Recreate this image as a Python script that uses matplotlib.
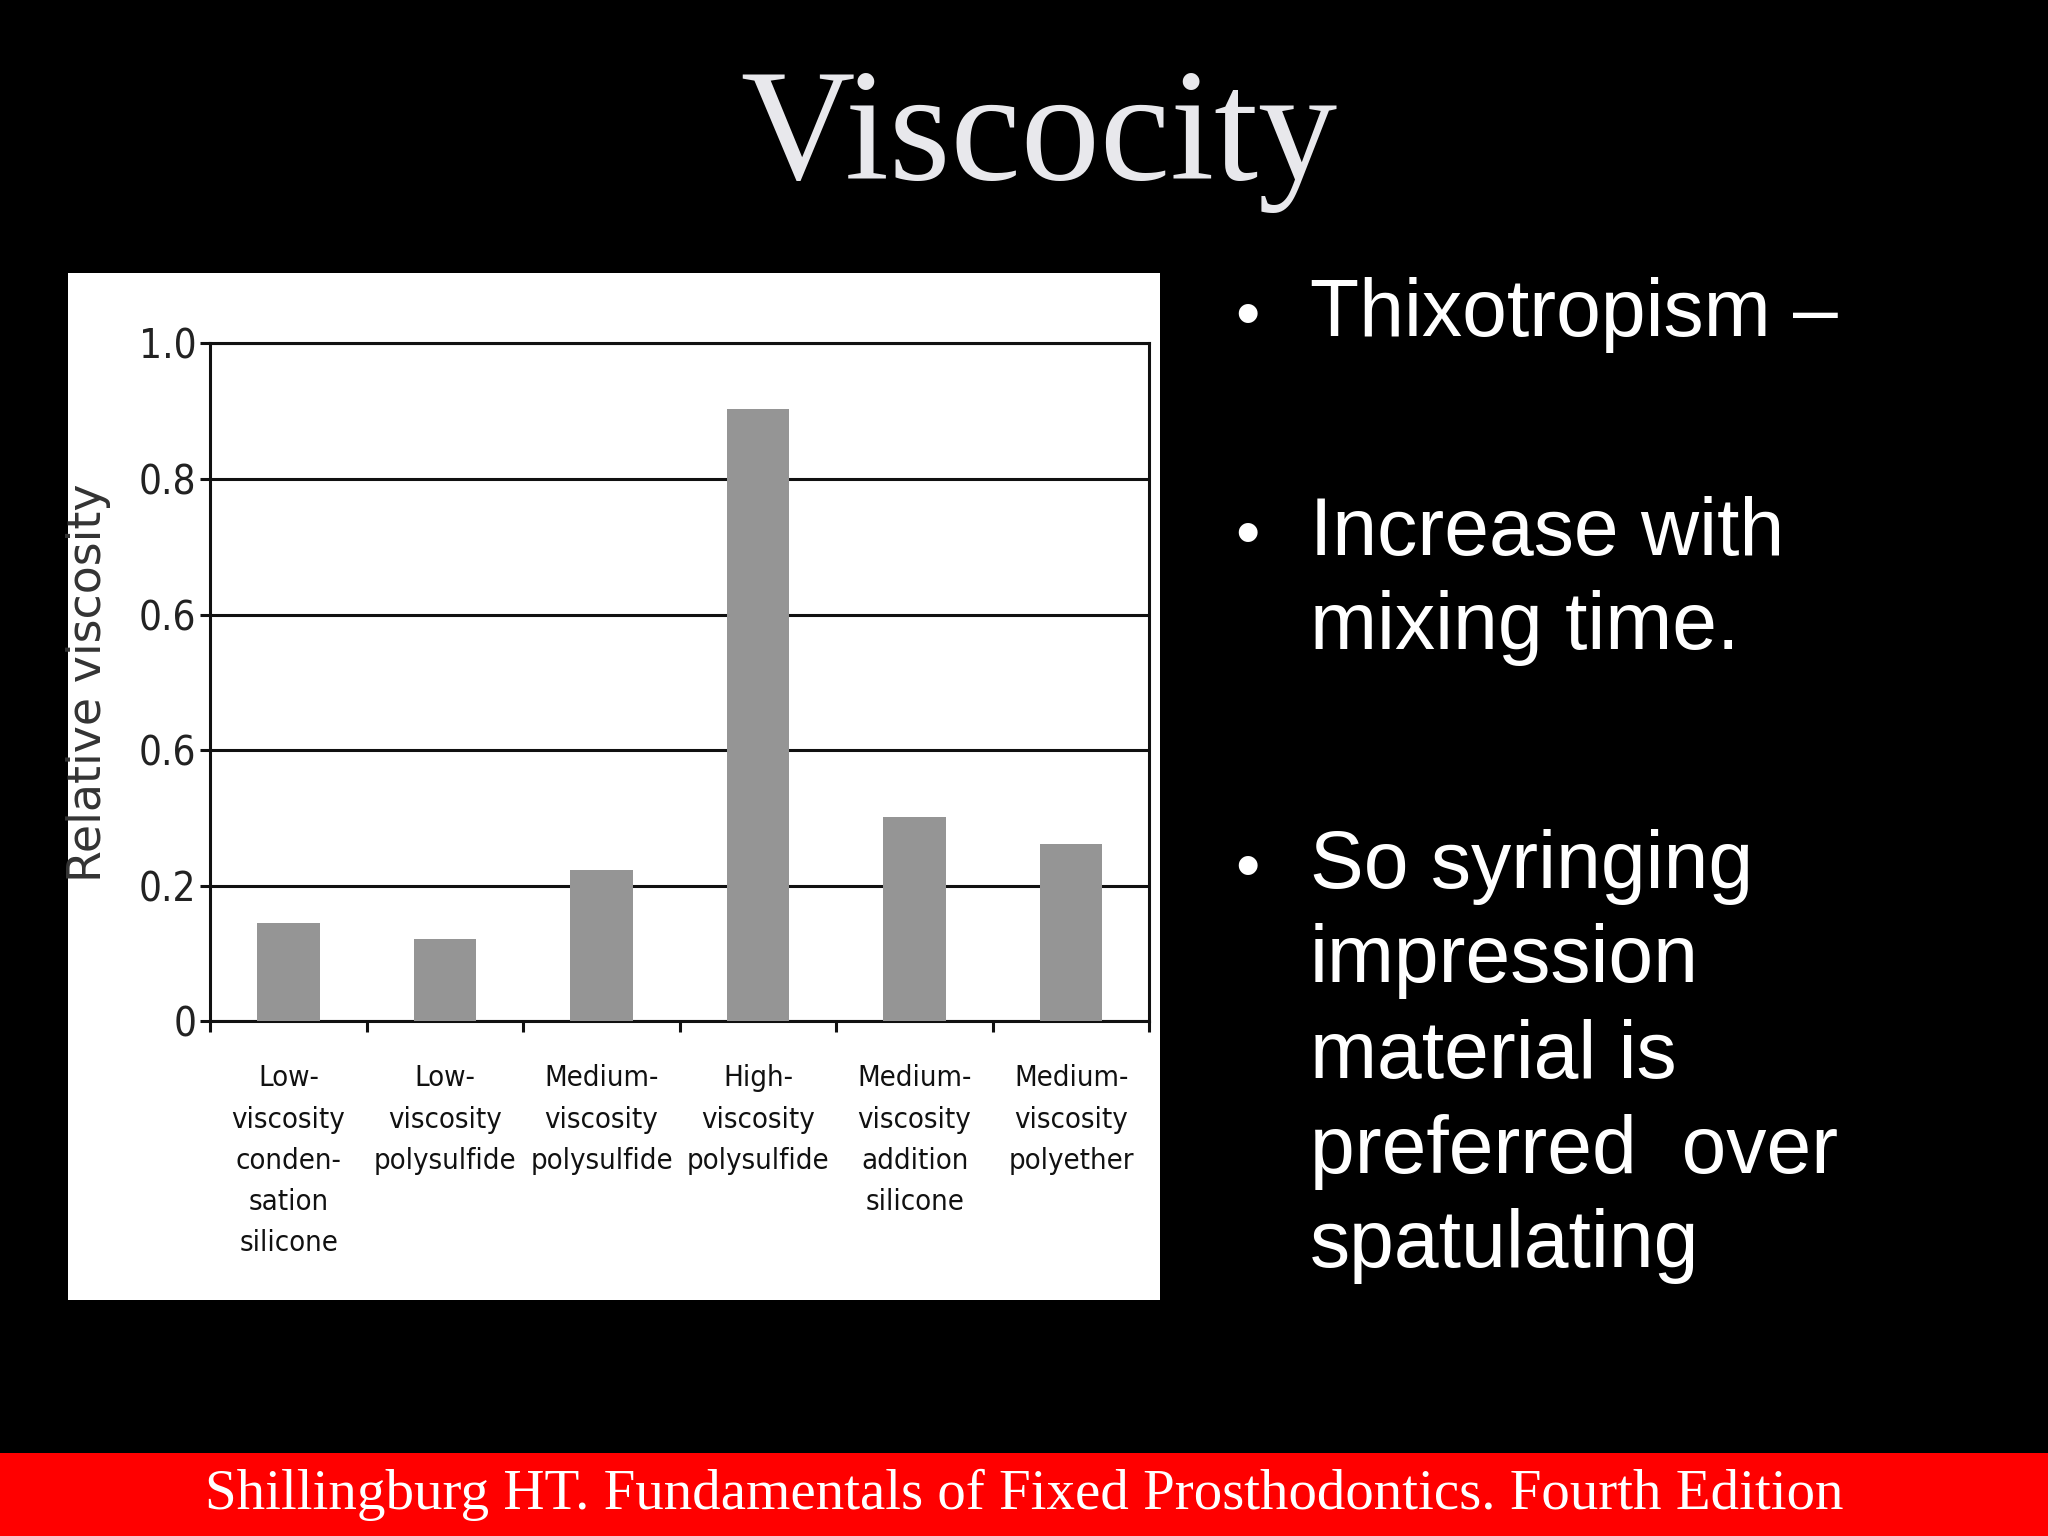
import matplotlib
matplotlib.use("Agg")
import matplotlib.pyplot as plt
from matplotlib.patches import Rectangle
import numpy as np

# Data
categories = [
    "Low-\nviscosity\nconden-\nsation\nsilicone",
    "Low-\nviscosity\npolysulfide",
    "Medium-\nviscosity\npolysulfide",
    "High-\nviscosity\npolysulfide",
    "Medium-\nviscosity\naddition\nsilicone",
    "Medium-\nviscosity\npolyether",
]
viscosity = [0.145, 0.121, 0.224, 0.904, 0.302, 0.262]
ytick_values = [0, 0.2, 0.4, 0.6, 0.8, 1.0]
ytick_labels = ["0", "0.2", "0.6", "0.6", "0.8", "1.0"]  # as printed in the source figure

bullets = [
    ["Thixotropism \u2013"],
    ["Increase with", "mixing time."],
    ["So syringing", "impression", "material is", "preferred  over", "spatulating"],
]
bullet_baselines = [[0.7814], [0.6387, 0.5775], [0.4219, 0.3607, 0.2984, 0.2363, 0.1751]]

sans = ["Liberation Sans", "Arial", "DejaVu Sans"]
serif = ["Liberation Serif", "Times New Roman", "DejaVu Serif"]

fig = plt.figure(figsize=(20.48, 15.36), dpi=100, facecolor="black")

# white panel behind the chart
fig.patches.append(Rectangle((0.0332, 0.1539), 0.5332, 0.6684, transform=fig.transFigure,
                             facecolor="white", edgecolor="none", zorder=-1))
# red footer band
fig.patches.append(Rectangle((0, 0), 1, 0.054, transform=fig.transFigure,
                             facecolor="#ff0000", edgecolor="none", zorder=-1))

ax = fig.add_axes([0.1027, 0.3350, 0.4585, 0.4414])
ax.set_facecolor("white")
x = np.arange(len(categories))
ax.bar(x, viscosity, width=0.4, color="#959595", zorder=3)

ax.set_xlim(-0.5, len(categories) - 0.5)
ax.set_ylim(0, 1.0)
ax.set_yticks(ytick_values)
ax.set_yticklabels(ytick_labels, family="DejaVu Sans", fontstretch="condensed",
                   fontsize=29, color="#222222")
ax.yaxis.grid(True, color="#111111", linewidth=2.2, zorder=1)
ax.tick_params(axis="y", length=7, width=2.2, pad=3, color="#111111")

ax.set_xticks(x)
ax.set_xticklabels(categories, family="DejaVu Sans", fontstretch="condensed",
                   fontsize=21, color="#111111", linespacing=1.6)
ax.tick_params(axis="x", which="major", length=0, pad=31)
ax.set_xticks(np.arange(len(categories) + 1) - 0.5, minor=True)
ax.tick_params(axis="x", which="minor", length=8, width=2.2, color="#111111", direction="out")

for s in ax.spines.values():
    s.set_linewidth(2.2)
    s.set_color("#111111")

ax.set_ylabel("Relative viscosity", family="DejaVu Sans", fontsize=33, color="#333333")
ax.yaxis.set_label_coords(-0.106, 0.5)

# slide title
fig.text(0.507, 0.8835, "Viscocity", family=serif, fontsize=114, color="#e8e8ec",
         ha="center", va="baseline")

# bullet points
for lines, ys in zip(bullets, bullet_baselines):
    fig.text(0.6089, ys[0], "\u2022", family=sans, fontsize=50, color="white",
             ha="center", va="baseline")
    for line, y in zip(lines, ys):
        fig.text(0.6397, y, line, family=sans, fontsize=58, color="white",
                 ha="left", va="baseline")

# reference footer
fig.text(0.5, 0.0178, "Shillingburg HT. Fundamentals of Fixed Prosthodontics. Fourth Edition",
         family=serif, fontsize=41, color="white", ha="center", va="baseline")

plt.savefig("out.png", dpi=100, facecolor="black")
